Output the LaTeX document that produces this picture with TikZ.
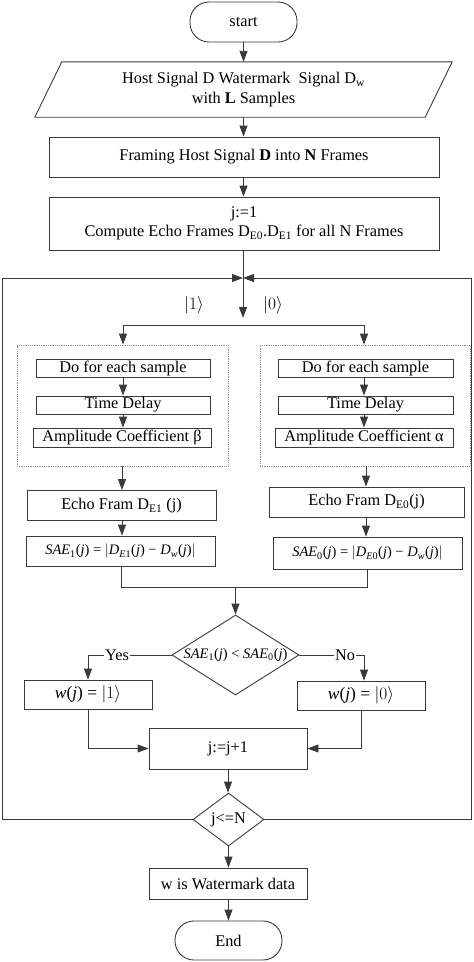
\documentclass[tikz,border=0pt]{standalone}
\usepackage{fontspec}
\setmainfont{Liberation Serif}
\usetikzlibrary{arrows.meta,shapes.geometric,calc}
\definecolor{lc}{HTML}{3A3A3A}
\definecolor{dc}{HTML}{909090}
\tikzset{
  ln/.style={draw=lc, line width=0.9pt},
  arr/.style={ln, -{Triangle[length=11pt,width=8pt]}},
  txt/.style={font=\fontsize{16.3}{19.5}\selectfont, text=black},
  box/.style={txt, draw=lc, line width=0.9pt, rectangle, inner sep=0pt, align=center},
  term/.style={box, rounded corners=19pt},
  dia/.style={txt, draw=lc, line width=0.9pt, diamond, inner sep=0pt},
  dotbox/.style={draw=dc, densely dotted, line width=0.8pt, rectangle, inner sep=0pt},
  fml/.style={font=\fontsize{14.5}{17}\selectfont},
  big/.style={font=\fontsize{17.5}{20}\selectfont},
  lab/.style={txt, fill=white, inner sep=1pt}
}
\begin{document}
\begin{tikzpicture}[x=1pt,y=-1pt]
\useasboundingbox (0,0) rectangle (474,962);
% top part
\node[term, minimum width=107, minimum height=40] (start) at (243.5,22) {start};
\node[txt, minimum width=390, minimum height=55, inner sep=0pt, align=center] (inp) at (243.5,89.5)
  {Host Signal D Watermark\ \ Signal D\textsubscript{w}\\with \textbf{L} Samples};
\draw[ln] ($(inp.north west)+(13.5,0)$) -- ($(inp.north east)+(13.5,0)$)
  -- ($(inp.south east)+(-13.5,0)$) -- ($(inp.south west)+(-13.5,0)$) -- cycle;
\node[box, minimum width=390, minimum height=40] (fram) at (244,157)
  {Framing Host Signal \textbf{D} into \textbf{N} Frames};
\node[box, minimum width=390, minimum height=53] (init) at (244,223.5)
  {j:=1\\Compute Echo Frames D\textsubscript{E0}.D\textsubscript{E1} for all N Frames};
\draw[arr] (start.south) -- (start.south |- inp.north);
\draw[arr] (inp.south -| start.south) -- (start.south |- fram.north);
\draw[arr] (fram.south -| start.south) -- (start.south |- init.north);
% junction and branch
\coordinate (jn) at (243,278);
\coordinate (bt) at (243,318);
\coordinate (bl) at (123,325);
\coordinate (br) at (364,325);
\draw[arr] (init.south -| jn) -- (bt);
\draw[ln] (bl) -- (br);
\node[big] (k1) at (194,305) {$\Bigl|1\Bigr\rangle$};
\node[big] (k0) at (273,305) {$\Bigl|0\Bigr\rangle$};
% dotted boxes
\node[dotbox, minimum width=211, minimum height=121] (dl) at (122.5,405.5) {};
\node[dotbox, minimum width=210, minimum height=121] (dr) at (365,405.5) {};
\draw[arr] (bl) -- (bl |- dl.north);
\draw[arr] (br) -- (br |- dr.north);
\node[box, minimum width=174, minimum height=18] (l1) at (123,368) {Do for each sample};
\node[box, minimum width=174, minimum height=18] (l2) at (123,405) {Time Delay};
\node[box, minimum width=178, minimum height=19] (l3) at (122,437.5) {Amplitude Coefficient β};
\node[box, minimum width=175, minimum height=18] (r1) at (365.5,368) {Do for each sample};
\node[box, minimum width=175, minimum height=18] (r2) at (365.5,405) {Time Delay};
\node[box, minimum width=178, minimum height=19] (r3) at (364,437.5) {Amplitude Coefficient α};
\draw[arr] (l1.south -| bl) -- (bl |- l2.north);
\draw[arr] (l2.south -| bl) -- (bl |- l3.north);
\draw[arr] (r1.south -| br) -- (br |- r2.north);
\draw[arr] (r2.south -| br) -- (br |- r3.north);
% echo boxes
\node[box, minimum width=189, minimum height=30] (el) at (121.5,505.5) {Echo Fram D\textsubscript{E1} (j)};
\node[box, minimum width=195, minimum height=30] (er) at (366.5,502) {Echo Fram D\textsubscript{E0}(j)};
\node[box, fml, minimum width=189, minimum height=30] (sl) at (120.5,551)
  {\textit{SAE}\textsubscript{1}(\textit{j}) = $\Bigl|$\textit{D}\textsubscript{\textit{E}1}(\textit{j}) − \textit{D}\textsubscript{\textit{w}}(\textit{j})$\Bigr|$};
\node[box, fml, minimum width=189, minimum height=32] (sr) at (367.5,553)
  {\textit{SAE}\textsubscript{0}(\textit{j}) = $\Bigl|$\textit{D}\textsubscript{\textit{E}0}(\textit{j}) − \textit{D}\textsubscript{\textit{w}}(\textit{j})$\Bigr|$};
\coordinate (tl) at (122,466);
\coordinate (tr) at (366,466);
\draw[arr] (tl) -- (tl |- el.north);
\draw[arr] (tr) -- (tr |- er.north);
\draw[arr] (tl |- el.south) -- (tl |- sl.north);
\draw[arr] (tr |- er.south) -- (tr |- sr.north);
\coordinate (ml) at (121,587);
\coordinate (mr) at (367,587);
\coordinate (mm) at (235.5,587);
\draw[ln] (ml |- sl.south) -- (ml) -- (mr) -- (mr |- sr.south);
% decision
\node[dia, minimum width=127, minimum height=80, aspect=1.59] (d1) at (235.5,655)
  {\fontsize{14.5}{17}\selectfont\textit{SAE}\textsubscript{1}(\textit{j}) < \textit{SAE}\textsubscript{0}(\textit{j})};
\draw[arr] (mm) -- (d1.north);
\node[box, big, minimum width=128, minimum height=29] (w1) at (88,694.5) {\textit{w}(\textit{j}) = $\Bigl|1\Bigr\rangle$};
\node[box, big, minimum width=128, minimum height=29] (w0) at (361,695.5) {\textit{w}(\textit{j}) = $\Bigl|0\Bigr\rangle$};
\coordinate (yc) at (88,655);
\coordinate (nc) at (364,655);
\draw[arr] (d1.west) -- (yc) -- (yc |- w1.north);
\draw[arr] (d1.east) -- (nc) -- (nc |- w0.north);
\node[lab] (yes) at (117,655) {Yes};
\node[lab] (no) at (345,655) {No};
\node[box, minimum width=158, minimum height=41] (inc) at (228,748.5) {j:=j+1};
\draw[arr] (w1.south) -- (w1.south |- inc.west) -- (inc.west);
\draw[arr] (w0.south) -- (w0.south |- inc.east) -- (inc.east);
\node[dia, minimum width=71, minimum height=53, aspect=1.34] (d2) at (228.5,819.5) {j<=N};
\draw[arr] (inc.south) -- (inc.south |- d2.north);
% loop frame
\coordinate (fl) at (2.5,819.5);
\coordinate (fr) at (471.5,819.5);
\draw[arr] (d2.west) -- (fl) -- (fl |- jn) -- (jn);
\draw[arr] (d2.east) -- (fr) -- (fr |- jn) -- (jn);
% end
\node[box, minimum width=158, minimum height=31] (res) at (228,883.5) {w is Watermark data};
\node[term, minimum width=107, minimum height=39] (fin) at (228.5,940.5) {End};
\draw[arr] (d2.south) -- (d2.south |- res.north);
\draw[arr] (res.south -| d2.south) -- (d2.south |- fin.north);
\end{tikzpicture}
\end{document}
